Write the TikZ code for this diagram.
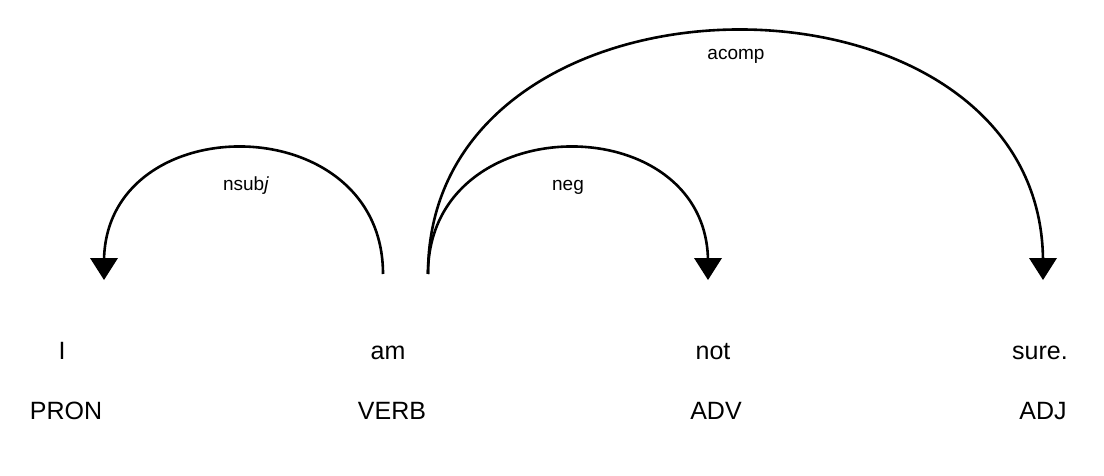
\documentclass[tikz,border=0pt]{standalone}
\usepackage{fontspec}
\setmainfont{Liberation Sans}
\begin{document}
\begin{tikzpicture}[x=1pt,y=-1pt,
  word/.style={font=\fontsize{25}{28}\selectfont,inner sep=0pt,anchor=base},
  lbl/.style={font=\fontsize{19}{22}\selectfont,inner sep=0pt,anchor=base},
  arc/.style={line width=2.6pt},
  head/.style={fill=black,draw=none}]
\useasboundingbox (0,0) rectangle (1104,476);
\node[word] (w1) at (62,359) {I};
\node[word] (w2) at (388,359) {am};
\node[word] (w3) at (713,359) {not};
\node[word] (w4) at (1040,359) {sure.};
\node[word] (t1) at (66,419) {PRON};
\node[word] (t2) at (392,419) {VERB};
\node[word] (t3) at (716,419) {ADV};
\node[word] (t4) at (1043,419) {ADJ};
% anchor coordinates
\coordinate (s1) at (383,274);
\coordinate (e1) at (104,262);
\coordinate (s2) at (428,274);
\coordinate (e2) at (708,262);
\coordinate (s3) at (428,274);
\coordinate (e3) at (1043,262);
\draw[arc] (s1) .. controls (383,106) and (104,106) .. (e1);
\draw[arc] (s2) .. controls (428,106) and (708,106) .. (e2);
\draw[arc] (s3) .. controls (428,-50) and (1043,-50) .. (e3);
\fill[head] (90,258) -- (118,258) -- (104,280) -- cycle;
\fill[head] (694,258) -- (722,258) -- (708,280) -- cycle;
\fill[head] (1029,258) -- (1057,258) -- (1043,280) -- cycle;
\node[lbl] (l1) at (246,191) {nsub\textit{j}};
\node[lbl] (l2) at (568,191) {neg};
\node[lbl] (l3) at (736,60) {acomp};
\end{tikzpicture}
\end{document}
